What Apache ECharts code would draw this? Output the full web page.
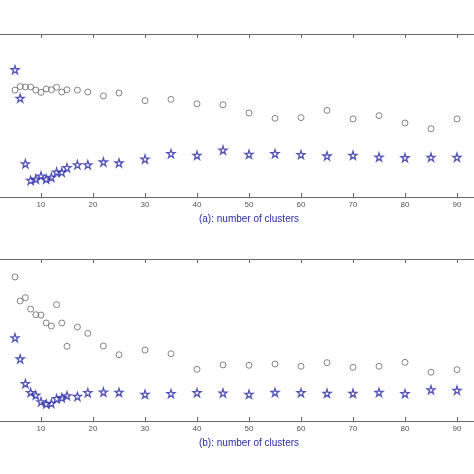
<!DOCTYPE html>
<html>
<head>
    <meta charset="UTF-8">
    <title>number of clusters</title>
    <script src="https://cdn.jsdelivr.net/npm/echarts@6/dist/echarts.min.js"></script>
    <style>
        html, body { margin: 0; padding: 0; background: #fff; overflow: hidden; }
        /* the figure is cropped: axes box runs past both sides of the window */
        #chart { position: absolute; left: -11px; top: 0; width: 520px; height: 474px; }
    </style>
</head>
<body>
    <div id="chart"></div>
    <script>
        // number of clusters
        var clusters = [5, 6, 7, 8, 9, 10, 11, 12, 13, 14, 15, 17, 19, 22, 25, 30, 35, 40, 45, 50, 55, 60, 65, 70, 75, 80, 85, 90];
        var xTicks = [10, 20, 30, 40, 50, 60, 70, 80, 90];

        // panel (a)
        var aCircles = [65.6, 67.7, 67.5, 67.5, 65.6, 64.2, 66.3, 65.8, 67.3, 64.4, 65.8, 65.6, 64.4, 62.0, 63.8, 59.1, 59.9, 57.2, 56.6, 51.5, 48.3, 48.7, 53.2, 47.9, 49.9, 45.4, 41.9, 47.9];
        var aStars = [78.1, 60.6, 20.4, 10.2, 11.0, 12.9, 11.0, 12.1, 15.3, 15.2, 18.0, 19.8, 19.8, 21.5, 20.9, 23.3, 26.6, 25.6, 28.8, 26.2, 26.6, 26.0, 25.2, 25.6, 24.5, 24.1, 24.4, 24.4];

        // panel (b)
        var bCircles = [88.9, 74.1, 76.1, 69.1, 65.6, 65.4, 60.5, 58.6, 71.8, 60.5, 46.1, 58.0, 54.1, 46.3, 40.9, 43.8, 41.5, 31.9, 34.6, 34.4, 35.2, 33.8, 36.0, 33.1, 33.8, 36.2, 30.1, 31.7];
        var bStars = [51.4, 38.3, 23.1, 17.6, 16.0, 11.9, 10.6, 10.9, 13.8, 14.4, 15.6, 15.2, 17.5, 17.9, 17.7, 16.5, 16.9, 17.5, 17.3, 16.5, 17.7, 17.5, 17.1, 17.1, 17.7, 16.9, 19.3, 19.0];

        var titles = ['(a): number of clusters', '(b): number of clusters'];

        var star = 'path://M100,0 L122.5,69.1 L195.1,69.1 L136.3,111.8 L158.8,180.9 L100,138.2 L41.2,180.9 L63.7,111.8 L4.9,69.1 L77.5,69.1 Z';
        var axisGray = '#6a6a6a';
        var blue = '#2a2aa8';

        function pairs(ys) {
            var out = [];
            for (var i = 0; i < clusters.length; i++) {
                out.push([clusters[i], ys[i]]);
            }
            return out;
        }

        var grids = [
            { left: 0, right: 0, top: 34, bottom: 277, outerBoundsMode: 'none', containLabel: false },
            { left: 0, right: 0, top: 259, bottom: 53, outerBoundsMode: 'none', containLabel: false }
        ];

        var xAxes = [];
        var yAxes = [];
        [0, 1].forEach(function (g) {
            xAxes.push({
                gridIndex: g, type: 'value', min: 0, max: 100, interval: 10,
                name: titles[g], nameLocation: 'middle', nameGap: 17,
                nameTextStyle: { color: blue, fontSize: 10, fontFamily: 'Liberation Sans' },
                axisLine: { lineStyle: { color: axisGray, width: 1 } },
                axisTick: { inside: true, length: 4, lineStyle: { color: axisGray } },
                axisLabel: {
                    color: '#555', fontSize: 8, margin: 4, fontFamily: 'Liberation Sans',
                    formatter: function (v) { return xTicks.indexOf(v) >= 0 ? String(v) : ''; }
                },
                splitLine: { show: false }
            });
            xAxes.push({
                gridIndex: g, type: 'value', min: 0, max: 100, interval: 10, position: 'top',
                axisLine: { lineStyle: { color: axisGray, width: 1 } },
                axisTick: { inside: true, length: 4, lineStyle: { color: axisGray } },
                axisLabel: { show: false },
                splitLine: { show: false }
            });
            yAxes.push({
                gridIndex: g, type: 'value', min: 0, max: 100,
                axisLine: { show: true, lineStyle: { color: axisGray } },
                axisTick: { show: false },
                axisLabel: { show: false },
                splitLine: { show: false }
            });
        });

        var chart = echarts.init(document.getElementById('chart'));
        chart.setOption({
            animation: false,
            grid: grids,
            xAxis: xAxes,
            yAxis: yAxes,
            series: [
                {
                    type: 'scatter', xAxisIndex: 0, yAxisIndex: 0, data: pairs(aCircles),
                    symbol: 'circle', symbolSize: 6,
                    itemStyle: { color: 'transparent', borderColor: '#666', borderWidth: 1 }
                },
                {
                    type: 'scatter', xAxisIndex: 0, yAxisIndex: 0, data: pairs(aStars),
                    symbol: star, symbolSize: 8,
                    itemStyle: { color: 'transparent', borderColor: blue, borderWidth: 1.3 }
                },
                {
                    type: 'scatter', xAxisIndex: 2, yAxisIndex: 1, data: pairs(bCircles),
                    symbol: 'circle', symbolSize: 6,
                    itemStyle: { color: 'transparent', borderColor: '#666', borderWidth: 1 }
                },
                {
                    type: 'scatter', xAxisIndex: 2, yAxisIndex: 1, data: pairs(bStars),
                    symbol: star, symbolSize: 8,
                    itemStyle: { color: 'transparent', borderColor: blue, borderWidth: 1.3 }
                }
            ]
        });
    </script>
</body>
</html>
